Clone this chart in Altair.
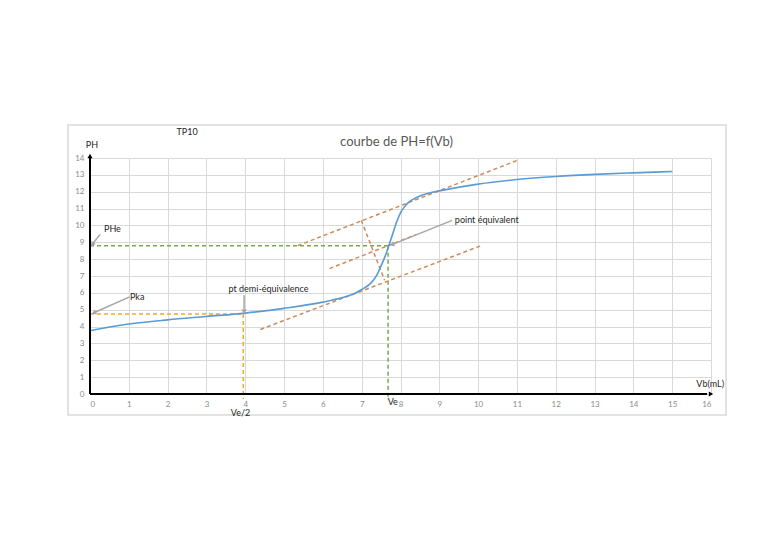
import math
import altair as alt
import pandas as pd

# ---- data ----
vb = [0, 0.5, 1, 2, 3, 4, 5, 6, 6.5, 6.8, 7.0, 7.2, 7.3, 7.4, 7.5, 7.6, 7.7, 7.8, 7.9, 8.0, 8.1, 8.2, 8.3, 8.5, 8.7, 9, 10, 11, 12, 13, 14, 15]
ph = [3.75, 3.97, 4.15, 4.4, 4.6, 4.8, 5.08, 5.45, 5.72, 5.95, 6.2, 6.5, 6.75, 7.1, 7.6, 8.15, 8.8, 9.5, 10.2, 10.75, 11.1, 11.35, 11.52, 11.75, 11.9, 12.05, 12.45, 12.72, 12.9, 13.03, 13.12, 13.2]

x_ticks = list(range(0, 17))
y_ticks = list(range(0, 15))

# dashed construction lines
seg_kind = ["green", "green", "gold", "gold", "brown", "brown", "brown", "brown"]
seg_x = [0, 7.68, 0, 3.95, 5.35, 4.39, 6.17, 6.99]
seg_y = [8.8, 8.8, 4.75, 4.75, 8.8, 3.83, 7.44, 10.3]
seg_x2 = [7.68, 7.68, 3.95, 3.95, 11.0, 10.08, 8.4, 7.59]
seg_y2 = [8.8, -0.35, 4.75, -0.3, 13.85, 8.8, 9.45, 6.75]

# annotation pointers (start -> end)
arr_x = [0.26, 1.02, 3.97, 9.33]
arr_y = [9.47, 5.76, 5.86, 10.3]
arr_x2 = [0.06, 0.1, 3.97, 7.78]
arr_y2 = [8.88, 4.82, 4.88, 8.86]

# annotation texts
lab_text = ["TP10", "PH", "Vb(mL)", "PHe", "Pka", "pt demi-équivalence", "point équivalent", "Ve", "Ve/2"]
lab_x = [2.5, 0.05, 15.98, 0.36, 1.03, 4.6, 9.4, 7.8, 3.88]
lab_y = [15.56, 14.75, 0.6, 9.8, 5.74, 6.2, 10.3, -0.47, -1.15]
lab_align = ["center", "center", "center", "left", "left", "center", "left", "center", "center"]

XMAX, YMAX = 16, 14
W, H = 621, 236
FONT = "Lato"

xs = alt.Scale(domain=[0, XMAX], nice=False, zero=False)
ys = alt.Scale(domain=[0, YMAX], nice=False, zero=False)

def X(field="x"):
    return alt.X(f"{field}:Q", scale=xs, title=None,
                 axis=alt.Axis(values=x_ticks, grid=True, gridColor="#d9d9d9", domain=False,
                               ticks=False, labelColor="#8c8c8c", labelFontSize=8, labelFont=FONT,
                               labelPadding=6))

def Y(field="y"):
    return alt.Y(f"{field}:Q", scale=ys, title=None,
                 axis=alt.Axis(values=y_ticks, grid=True, gridColor="#d9d9d9", domain=False,
                               ticks=False, labelColor="#8c8c8c", labelFontSize=8, labelFont=FONT,
                               labelPadding=6))

curve_df = pd.DataFrame({"x": vb, "y": ph})
seg_df = pd.DataFrame({"x": seg_x, "y": seg_y, "x2": seg_x2, "y2": seg_y2, "kind": seg_kind})
arr_df = pd.DataFrame({"x": arr_x, "y": arr_y, "x2": arr_x2, "y2": arr_y2})
lab_df = pd.DataFrame({"t": lab_text, "x": lab_x, "y": lab_y, "align": lab_align})

# arrow head orientation in screen space
heads = []
for x0, y0, x1, y1 in zip(arr_x, arr_y, arr_x2, arr_y2):
    dx = (x1 - x0) * W / XMAX
    dy = -(y1 - y0) * H / YMAX
    heads.append({"x": x1, "y": y1, "ang": math.degrees(math.atan2(dx, -dy)) % 360})
head_df = pd.DataFrame(heads)

axis_df = pd.DataFrame({"x": [0, 0], "y": [0, 0], "x2": [0, 15.9], "y2": [14.05, 0]})
axis_head_df = pd.DataFrame({"x": [0, 16.0], "y": [14.12, 0], "ang": [0, 90]})

border = alt.Chart(pd.DataFrame({"a": [0]})).mark_rect(
    fill="white", fillOpacity=0, stroke="#d9d9d9", strokeWidth=1.5
).encode(x=alt.value(-22), x2=alt.value(636), y=alt.value(-33), y2=alt.value(257))

grid_base = alt.Chart(curve_df).mark_line(opacity=0).encode(x=X(), y=Y())

segs = alt.Chart(seg_df).mark_rule(strokeDash=[4, 3], strokeWidth=1.5).encode(
    x=X(), y=Y(), x2="x2:Q", y2="y2:Q",
    color=alt.Color("kind:N", legend=None,
                    scale=alt.Scale(domain=["green", "gold", "brown"],
                                    range=["#70ad47", "#eeaa22", "#cf8a5c"]))
)

curve = alt.Chart(curve_df).mark_line(color="#5b9bd5", strokeWidth=1.6, interpolate="monotone").encode(
    x=X(), y=Y()
)

axes = alt.Chart(axis_df).mark_rule(color="black", strokeWidth=2).encode(
    x=X(), y=Y(), x2="x2:Q", y2="y2:Q"
)
axis_heads = alt.Chart(axis_head_df).mark_point(
    shape="triangle-up", filled=True, color="black", size=26, opacity=1
).encode(x=X(), y=Y(), angle=alt.Angle("ang:Q", scale=None))

arrows = alt.Chart(arr_df).mark_rule(color="#a6a6a6", strokeWidth=1.5).encode(
    x=X(), y=Y(), x2="x2:Q", y2="y2:Q"
)
arrow_heads = alt.Chart(head_df).mark_point(
    shape="triangle-up", filled=True, color="#a6a6a6", size=28, opacity=1
).encode(x=X(), y=Y(), angle=alt.Angle("ang:Q", scale=None))


def lab_layer(align):
    return alt.Chart(lab_df[lab_df["align"] == align]).mark_text(
        font=FONT, fontSize=9, color="#262626", baseline="middle", align=align
    ).encode(x=X(), y=Y(), text="t:N")

chart = alt.layer(
    border, grid_base, segs, curve, arrows, arrow_heads, axes, axis_heads,
    lab_layer("center"), lab_layer("left")
).properties(
    width=W, height=H,
    title=alt.TitleParams("courbe de PH=f(Vb)", fontSize=13, color="#595959", font=FONT,
                          fontWeight="normal", anchor="middle", offset=-25, dx=-4),
    autosize=alt.AutoSizeParams(type="none"),
    padding={"left": 82, "top": 150, "right": 40, "bottom": 130},
).configure_view(stroke=None)

chart.save("out.html", embed_options={"renderer": "svg", "actions": False})
